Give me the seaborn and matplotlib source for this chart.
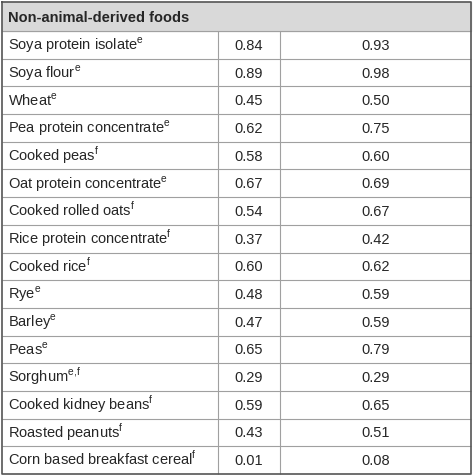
import matplotlib
matplotlib.use("Agg")
import matplotlib.pyplot as plt
import seaborn as sns

# Table contents
foods = ["Soya protein isolate", "Soya flour", "Wheat", "Pea protein concentrate",
         "Cooked peas", "Oat protein concentrate", "Cooked rolled oats",
         "Rice protein concentrate", "Cooked rice", "Rye", "Barley", "Peas",
         "Sorghum", "Cooked kidney beans", "Roasted peanuts",
         "Corn based breakfast cereal"]
notes = ["e", "e", "e", "e", "f", "e", "f", "f", "f", "e", "e", "e", "e,\\!f", "f", "f", "f"]
col_a = ["0.84", "0.89", "0.45", "0.62", "0.58", "0.67", "0.54", "0.37",
         "0.60", "0.48", "0.47", "0.65", "0.29", "0.59", "0.43", "0.01"]
col_b = ["0.93", "0.98", "0.50", "0.75", "0.60", "0.69", "0.67", "0.42",
         "0.62", "0.59", "0.59", "0.79", "0.29", "0.65", "0.51", "0.08"]
title = "Non-animal-derived foods"

sns.set_style("white")
plt.rcParams["font.family"] = ["Liberation Sans", "DejaVu Sans"]
plt.rcParams["mathtext.fontset"] = "custom"
plt.rcParams["mathtext.rm"] = "Liberation Sans"

fig = plt.figure(figsize=(4.74, 4.76), dpi=100)
ax = fig.add_axes([0, 0, 1, 1])
ax.set_xlim(0, 474)
ax.set_ylim(476, 0)
ax.axis("off")

left, right = 2, 471
x1, x2 = 218, 280
top, head_bot, bottom = 2, 31, 474
n = len(foods)
rh = (bottom - head_bot) / n
line = "#a0a0a0"
fs = 10.5

ax.fill_between([left, right], top, head_bot, color="#d9d9d9", zorder=0)
ax.text(8, (top + head_bot) / 2 + 5, title, fontsize=fs, fontweight="bold",
        va="baseline", ha="left")

for i in range(n):
    yb = head_bot + rh * (i + 0.5) + 5
    ax.text(8, yb, f"{foods[i]}$^{{\\mathrm{{{notes[i]}}}}}$", fontsize=fs,
            va="baseline", ha="left")
    ax.text((x1 + x2) / 2, yb, col_a[i], fontsize=fs, va="baseline", ha="center")
    ax.text((x2 + right) / 2, yb, col_b[i], fontsize=fs, va="baseline", ha="center")
    ax.hlines(head_bot + rh * i, left, right, color=line, lw=0.8)

ax.vlines([x1, x2], head_bot, bottom, color=line, lw=0.8)
ax.plot([left, right, right, left, left], [top, top, bottom, bottom, top],
        color="#555555", lw=1.2)

fig.savefig("out.png", dpi=100)
